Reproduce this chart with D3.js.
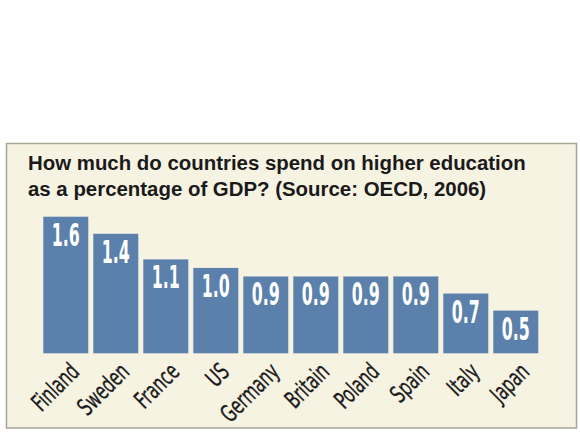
<!DOCTYPE html>
<html><head><meta charset="utf-8">
<script src="https://cdn.jsdelivr.net/npm/d3@7"></script>
<style>
html,body{margin:0;padding:0;background:#fff;}
svg{display:block;}
</style></head>
<body>
<svg id="chart" width="580" height="435"></svg>
<script>
const countries = ["Finland","Sweden","France","US","Germany","Britain","Poland","Spain","Italy","Japan"];
const values = [1.6,1.4,1.1,1.0,0.9,0.9,0.9,0.9,0.7,0.5];
const valueLabels = ["1.6","1.4","1.1","1.0","0.9","0.9","0.9","0.9","0.7","0.5"];
const titleLines = ["How much do countries spend on higher education","as a percentage of GDP? (Source: OECD, 2006)"];

const svg = d3.select("#chart");
svg.append("rect").attr("x",6.5).attr("y",143.5).attr("width",570).attr("height",284.5)
  .attr("fill","#f7f3e3").attr("stroke","#a7a395").attr("stroke-width",1.5);

const title = svg.append("text")
  .attr("font-family","'Liberation Sans', Arial, sans-serif").attr("font-weight","bold")
  .attr("font-size",19).attr("fill","#1a1a1a");
titleLines.forEach((t,i)=>title.append("tspan").attr("x",28).attr("y",170+i*26).text(t));
const w0 = title.select("tspan").node().getComputedTextLength();
title.attr("font-size", 19*498/w0);

const x = d3.scaleBand().domain(countries).range([40.8, 540.8]).paddingInner(0.1).paddingOuter(0.05);
const y = d3.scaleLinear().domain([0,1.6]).range([353.3,216.7]);

const condensed = "'DejaVu Sans Condensed','DejaVu Sans',sans-serif";

const g = svg.append("g");
g.selectAll("rect.bar").data(countries).join("rect").attr("class","bar")
  .attr("x",d=>x(d)).attr("width",x.bandwidth())
  .attr("y",(d,i)=>y(values[i])).attr("height",(d,i)=>y(0)-y(values[i]))
  .attr("fill","#5a80ab");

const vals = g.selectAll("text.val").data(countries).join("text").attr("class","val")
  .attr("text-anchor","middle")
  .attr("font-family",condensed).attr("font-stretch","condensed")
  .attr("font-weight","bold").attr("font-size",32).attr("fill","#fff")
  .text((d,i)=>valueLabels[i]);
const refW = vals.filter((d,i)=>i===3).node().getComputedTextLength();
const sx = 28/refW;
vals.attr("transform",(d,i)=>`translate(${x(d)+x.bandwidth()/2},${y(values[i])+29}) scale(${sx},1)`);

const axis = d3.axisBottom(x).tickSize(0).tickPadding(0);
const ax = svg.append("g").attr("transform",`translate(0,${y(0)})`).call(axis);
ax.select(".domain").remove();
ax.selectAll("text")
  .attr("font-family",condensed).attr("font-stretch","condensed")
  .attr("font-size",24).attr("fill","#1a1a1a")
  .attr("stroke","#1a1a1a").attr("stroke-width",0.35)
  .attr("text-anchor","end").attr("dy",0).attr("y",0)
  .attr("transform","translate(15,20) rotate(-45) scale(0.72,1)");
</script>
</body></html>
